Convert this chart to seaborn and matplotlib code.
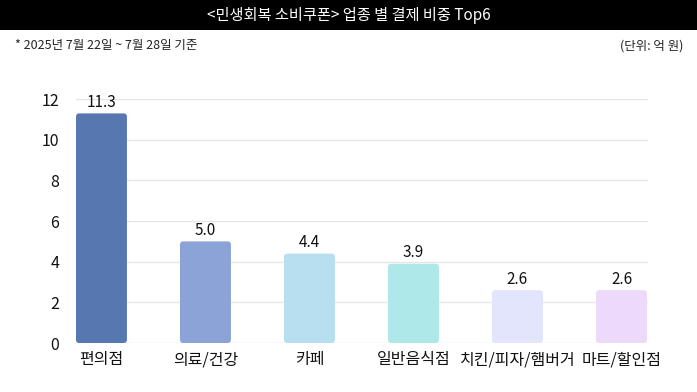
import matplotlib
matplotlib.use("Agg")
import matplotlib.pyplot as plt
import pandas as pd
import seaborn as sns
from matplotlib.patches import FancyBboxPatch, Rectangle

categories = ["편의점", "의료/건강", "카페", "일반음식점", "치킨/피자/햄버거", "마트/할인점"]
values = [11.3, 5.0, 4.4, 3.9, 2.6, 2.6]
colors = ["#5677B0", "#8BA3D6", "#B8DFF0", "#AEE8E8", "#E2E5FB", "#EDD9FA"]
yticks = [0, 2, 4, 6, 8, 10, 12]

title = "<민생회복 소비쿠폰> 업종 별 결제 비중 Top6"
note = "* 2025년 7월 22일 ~ 7월 28일 기준"
unit = "(단위: 억 원)"

sns.set_style("white")
plt.rcParams["font.family"] = ["Noto Sans CJK KR", "DejaVu Sans"]

df = pd.DataFrame({"category": categories, "value": values})

fig = plt.figure(figsize=(6.97, 3.92), dpi=100)
ax = fig.add_axes([0.109, 0.125, 0.820, 0.622])

sns.barplot(data=df, x="category", y="value", hue="category",
            palette=colors, width=0.49, legend=False, ax=ax, saturation=1)

# rounded tops
for p in list(ax.patches):
    x, y = p.get_x(), p.get_y()
    w, h = p.get_width(), p.get_height()
    fc = p.get_facecolor()
    p.remove()
    ax.add_patch(FancyBboxPatch((x, y), w, h,
                                boxstyle="round,pad=0,rounding_size=0.03",
                                mutation_aspect=6, facecolor=fc,
                                edgecolor="none", zorder=3))

for i, v in enumerate(values):
    ax.text(i, v + 0.12, f"{v:.1f}", ha="center", va="bottom",
            fontsize=11, color="#111111")

ax.set_xlim(-0.245, 5.25)
ax.set_ylim(0, 12)
ax.set_yticks(yticks)
ax.yaxis.grid(True, color="#E6E6E6", linewidth=1)
ax.set_axisbelow(True)
for s in ax.spines.values():
    s.set_visible(False)
ax.tick_params(axis="both", length=0, labelsize=11.5, colors="#111111")
ax.tick_params(axis="y", pad=12)
ax.tick_params(axis="x", pad=6)
ax.set_xlabel("")
ax.set_ylabel("")

# header bar
fig.patches.append(Rectangle((0, 1 - 30 / 392), 1, 30 / 392,
                             transform=fig.transFigure, facecolor="black",
                             edgecolor="none", zorder=0))
fig.text(0.5, 1 - 15 / 392, title, ha="center", va="center",
         color="white", fontsize=11, fontweight="medium")
fig.text(15 / 697, 1 - 46 / 392, note, ha="left", va="center",
         fontsize=9, color="#222222")
fig.text(683 / 697, 1 - 46 / 392, unit, ha="right", va="center",
         fontsize=9, color="#222222")

fig.savefig("out.png", dpi=100)
